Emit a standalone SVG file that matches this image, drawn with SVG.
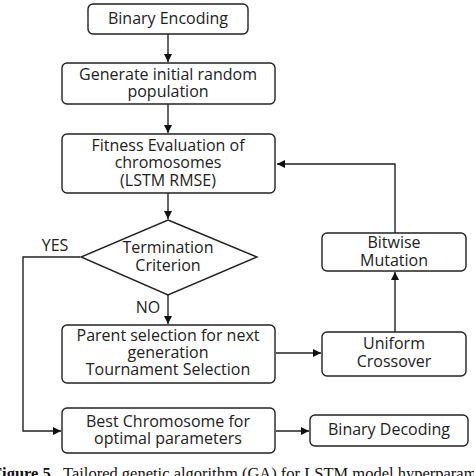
<svg xmlns="http://www.w3.org/2000/svg" width="474" height="476" viewBox="0 0 474 476">
<style>
.box{fill:#fff;stroke:#222;stroke-width:1.4}
.t{font-family:"Open Sans","Noto Sans",sans-serif;font-size:16px;fill:#222;text-anchor:middle}
.c{fill:none;stroke:#222;stroke-width:1.4}
.cap{font-family:"Liberation Serif",serif;font-size:16.5px;fill:#111}
</style>
<defs>
<marker id="ah" viewBox="0 0 10 10" refX="10" refY="5" markerWidth="8" markerHeight="8" markerUnits="userSpaceOnUse" orient="auto">
<path d="M0,0 L10,5 L0,10 z" fill="#111"/>
</marker>
</defs>
<rect width="474" height="476" fill="#fff"/>
<g id="connectors">
<path class="c" d="M168,34 V62" marker-end="url(#ah)"/>
<path class="c" d="M168,104 V133" marker-end="url(#ah)"/>
<path class="c" d="M168,193 V219" marker-end="url(#ah)"/>
<path class="c" d="M168,295 V324" marker-end="url(#ah)"/>
<path class="c" d="M80,257 H23 V431 H61" marker-end="url(#ah)"/>
<path class="c" d="M276,353 H321" marker-end="url(#ah)"/>
<path class="c" d="M395,332 V272" marker-end="url(#ah)"/>
<path class="c" d="M395,233 V164 H277" marker-end="url(#ah)"/>
<path class="c" d="M276,431 H309" marker-end="url(#ah)"/>
<text class="t" x="55" y="251">YES</text>
<text class="t" x="148" y="313">NO</text>
</g>
<g id="binary-encoding">
<rect class="box" x="88" y="4" width="160" height="30" rx="5"/>
<text class="t" x="168" y="24">Binary Encoding</text>
</g>
<g id="generate-population">
<rect class="box" x="62" y="63" width="213" height="41" rx="5"/>
<text class="t" x="168" y="80">Generate initial random</text>
<text class="t" x="168" y="97">population</text>
</g>
<g id="fitness-evaluation">
<rect class="box" x="62" y="134" width="213" height="59" rx="5"/>
<text class="t" x="168" y="151">Fitness Evaluation of</text>
<text class="t" x="168" y="168">chromosomes</text>
<text class="t" x="168" y="186">(LSTM RMSE)</text>
</g>
<g id="termination-criterion">
<path class="box" d="M168,220 L257,257 L168,295 L81,257 Z"/>
<text class="t" x="168" y="253">Termination</text>
<text class="t" x="168" y="271">Criterion</text>
</g>
<g id="parent-selection">
<rect class="box" x="62" y="325" width="213" height="58" rx="5"/>
<text class="t" x="168" y="341">Parent selection for next</text>
<text class="t" x="168" y="358">generation</text>
<text class="t" x="168" y="375">Tournament Selection</text>
</g>
<g id="uniform-crossover">
<rect class="box" x="322" y="332" width="144" height="44" rx="5"/>
<text class="t" x="394" y="349">Uniform</text>
<text class="t" x="394" y="367">Crossover</text>
</g>
<g id="bitwise-mutation">
<rect class="box" x="322" y="233" width="144" height="38" rx="5"/>
<text class="t" x="394" y="248">Bitwise</text>
<text class="t" x="394" y="266">Mutation</text>
</g>
<g id="best-chromosome">
<rect class="box" x="62" y="408" width="213" height="45" rx="5"/>
<text class="t" x="168" y="427">Best Chromosome for</text>
<text class="t" x="168" y="444">optimal parameters</text>
</g>
<g id="binary-decoding">
<rect class="box" x="310" y="415" width="158" height="31" rx="5"/>
<text class="t" x="389" y="435">Binary Decoding</text>
</g>
<text class="cap" y="479"><tspan x="-8" font-weight="bold">Figure 5.</tspan><tspan x="63">Tailored genetic algorithm (GA) for LSTM model hyperparameters</tspan></text>
</svg>
